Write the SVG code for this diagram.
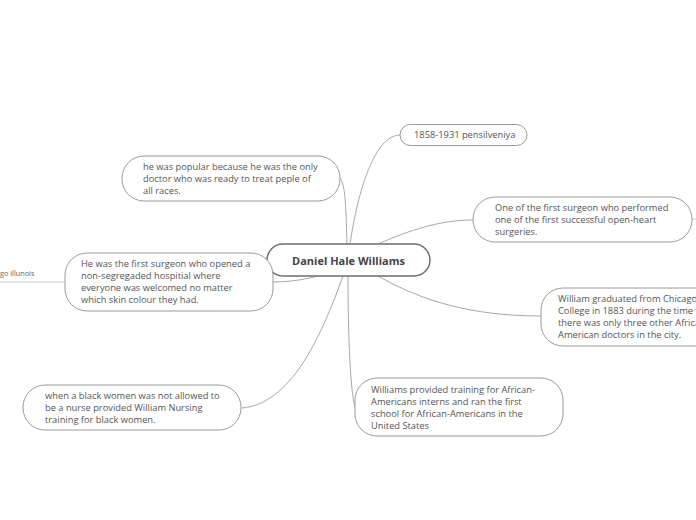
<svg xmlns="http://www.w3.org/2000/svg" width="696" height="520" viewBox="0 0 696 520">
<style>
.bg{fill:#ffffff}
.box{fill:#ffffff;stroke:#9a9a9a;stroke-width:1}
.main{fill:#ffffff;stroke:#6e6e6e;stroke-width:1.5}
.t{font-family:"Open Sans","Noto Sans",sans-serif;font-size:9.3px;fill:#555555}
.mt{font-family:"Open Sans","Noto Sans",sans-serif;font-size:11px;font-weight:bold;fill:#444444}
.st{font-family:"Open Sans","Noto Sans",sans-serif;font-size:7.3px;fill:#666666}
.c{fill:none;stroke:#a8a8a8;stroke-width:1}
.cl{fill:none;stroke:#cccccc;stroke-width:1}
</style>
<rect class="bg" x="0" y="0" width="696" height="520"/>
<g id="connectors">
<path class="c" d="M350,244 C358,190 375,135 400,135"/>
<path class="c" d="M347,244 C346,215 346,185 340,178"/>
<path class="c" d="M378,244 C410,230 440,220 473,220"/>
<path class="c" d="M345,268 C320,276 300,282 273,282"/>
<path class="c" d="M378,276 C420,300 470,316 541,316"/>
<path class="c" d="M348,276 C348,330 350,390 355,407"/>
<path class="c" d="M343,276 C320,340 290,404 242,408"/>
<path class="cl" d="M0,282 L65,282"/>
<path class="cl" d="M692,219 L696,219"/>
</g>
<g id="center">
<rect class="main" x="267" y="244" width="163" height="32" rx="16"/>
<text class="mt" x="348.5" y="264.5" text-anchor="middle">Daniel Hale Williams</text>
</g>
<g id="n-dates">
<rect class="box" x="400" y="124.5" width="127" height="21" rx="10.5"/>
<text class="t" x="414" y="138">1858-1931 pensilveniya</text>
</g>
<g id="n-popular">
<rect class="box" x="122" y="156" width="218" height="45" rx="22"/>
<text class="t" x="143" y="170">he was popular because he was the only</text>
<text class="t" x="143" y="182">doctor who was ready to treat peple of</text>
<text class="t" x="143" y="194">all races.</text>
</g>
<g id="n-heart">
<rect class="box" x="473" y="197" width="219" height="45" rx="22"/>
<text class="t" x="495" y="210.5">One of the first surgeon who performed</text>
<text class="t" x="495" y="222.5">one of the first successful open-heart</text>
<text class="t" x="495" y="234.5">surgeries.</text>
</g>
<g id="n-hospital">
<rect class="box" x="65" y="253" width="208" height="58" rx="22"/>
<text class="t" x="81" y="267">He was the first surgeon who opened a</text>
<text class="t" x="81" y="279">non-segregaded hospitial where</text>
<text class="t" x="81" y="291">everyone was welcomed no matter</text>
<text class="t" x="81" y="303">which skin colour they had.</text>
</g>
<g id="n-chicago">
<text class="st" x="0" y="276">go illunois</text>
</g>
<g id="n-graduated">
<rect class="box" x="541" y="288" width="180" height="58" rx="22"/>
<text class="t" x="558" y="302">William graduated from Chicago</text>
<text class="t" x="558" y="314">College in 1883 during the time w</text>
<text class="t" x="558" y="326">there was only three other Africa</text>
<text class="t" x="558" y="338">American doctors in the city.</text>
</g>
<g id="n-training">
<rect class="box" x="355" y="378" width="208" height="58" rx="22"/>
<text class="t" x="371" y="392.5">Williams provided training for African-</text>
<text class="t" x="371" y="404.5">Americans interns and ran the first</text>
<text class="t" x="371" y="416.5">school for African-Americans in the</text>
<text class="t" x="371" y="428.5">United States</text>
</g>
<g id="n-nursing">
<rect class="box" x="23" y="385" width="218" height="45" rx="22"/>
<text class="t" x="45" y="399">when a black women was not allowed to</text>
<text class="t" x="45" y="411">be a nurse provided William Nursing</text>
<text class="t" x="45" y="423">training for black women.</text>
</g>
</svg>
